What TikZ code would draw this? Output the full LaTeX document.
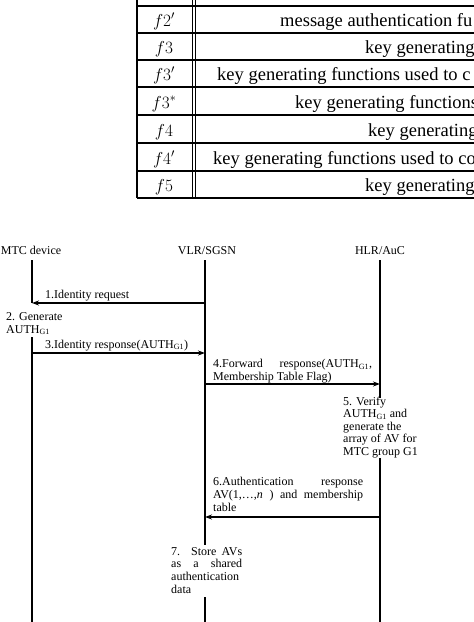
\documentclass[tikz,border=0pt]{standalone}
\usepackage{fontspec}
\setmainfont{Liberation Serif}
\usetikzlibrary{arrows.meta,positioning}
\newcommand{\jl}[2]{\makebox[#1][s]{#2}}
\newcommand{\authg}{AUTH\textsubscript{G1}}
\tikzset{
  cell/.style={inner sep=0pt, font=\fontsize{18.5}{20}\selectfont},
  head/.style={inner sep=0pt, font=\fontsize{12}{12.6}\selectfont},
  lbl/.style={inner sep=0pt, align=left, font=\fontsize{12}{12.6}\selectfont},
  life/.style={line width=1.4pt},
  msg/.style={line width=1.2pt, -{Stealth[length=7pt,width=5pt]}}
}

\begin{document}
\begin{tikzpicture}[x=1pt, y=-1pt]
  \useasboundingbox (0,0) rectangle (474,622);
  \clip (0,0) rectangle (474,622);
  % table
  \draw[line width=1.3pt] (137,0) -- (137,198);
  \draw[line width=0.9pt] (192,0) -- (192,198) (195.5,0) -- (195.5,198);
  \foreach \y in {6,33,60,87,115,143,171,198} \draw[line width=1.3pt] (137,\y) -- (474,\y);
  \foreach \y/\f in {26/f2', 53/f3, 80/f3', 108/f3^*, 136/f4, 164/f4', 191/f5}
    \node[cell, anchor=base] at (164,\y) {$\f$};
  \foreach \x/\y/\t in {280/26/message authentication fu, 365/53/key generating,
      217/80/key generating functions used to c, 295/108/key generating functions,
      368/136/key generating, 213/164/key generating functions used to co, 365/191/key generating}
    \node[cell, anchor=base west] at (\x,\y) {\t};

  % lifelines
  \node[head, anchor=base] (mtc) at (31,254) {MTC device};
  \node[head, anchor=base] (vlr) at (207,254) {VLR/SGSN};
  \node[head, anchor=base] (hlr) at (380,254) {HLR/AuC};
  \coordinate (m0) at (32,260);
  \coordinate (m1) at (32,303);
  \coordinate (m2) at (32,337);
  \coordinate (m3) at (32,353);
  \coordinate (m9) at (32,622);
  \coordinate (v0) at (205,260);
  \coordinate (v1) at (205,303);
  \coordinate (v3) at (205,353);
  \coordinate (v4) at (205,384);
  \coordinate (v6) at (205,517);
  \coordinate (v7) at (205,545);
  \coordinate (v8) at (205,597);
  \coordinate (v9) at (205,622);
  \coordinate (h0) at (380,260);
  \coordinate (h4) at (380,384);
  \coordinate (h5) at (380,398);
  \coordinate (h6) at (380,458);
  \coordinate (h7) at (380,517);
  \coordinate (h9) at (380,622);
  \draw[life] (m0) -- (m1) (m2) -- (m9);
  \draw[life] (v0) -- (v7) (v8) -- (v9);
  \draw[life] (h0) -- (h5) (h6) -- (h9);

  % messages (multi-line labels are placed by their last baseline)
  \draw[msg] (v1) -- (m1);
  \draw[msg] (m3) -- (v3);
  \draw[msg] (v4) -- (h4);
  \draw[msg] (h7) -- (v6);
  \node[lbl, anchor=base west] (t1) at (45,298) {1.Identity request};
  \node[lbl, anchor=base west] (t2) at (6,333) {2. Generate\\\authg};
  \node[lbl, anchor=base west] (t3) at (45,348) {3.Identity response(\authg)};
  \node[lbl, anchor=base west] (t4) at (213,380)
    {\jl{159pt}{4.Forward response(\authg,}\\Membership Table Flag)};
  \node[lbl, anchor=base west] (t5) at (343,455.5)
    {5. Verify\\\authg{} and\\generate the\\array of AV for\\MTC group G1};
  \node[lbl, anchor=base west] (t6) at (213,511)
    {\jl{150pt}{6.Authentication response}\\\jl{150pt}{AV(1,…,\textit{n} ) and membership}\\table};
  \node[lbl, anchor=base west] (t7) at (171,593)
    {\jl{71pt}{7. Store AVs}\\\jl{71pt}{as a shared}\\authentication\\data};
\end{tikzpicture}
\end{document}
